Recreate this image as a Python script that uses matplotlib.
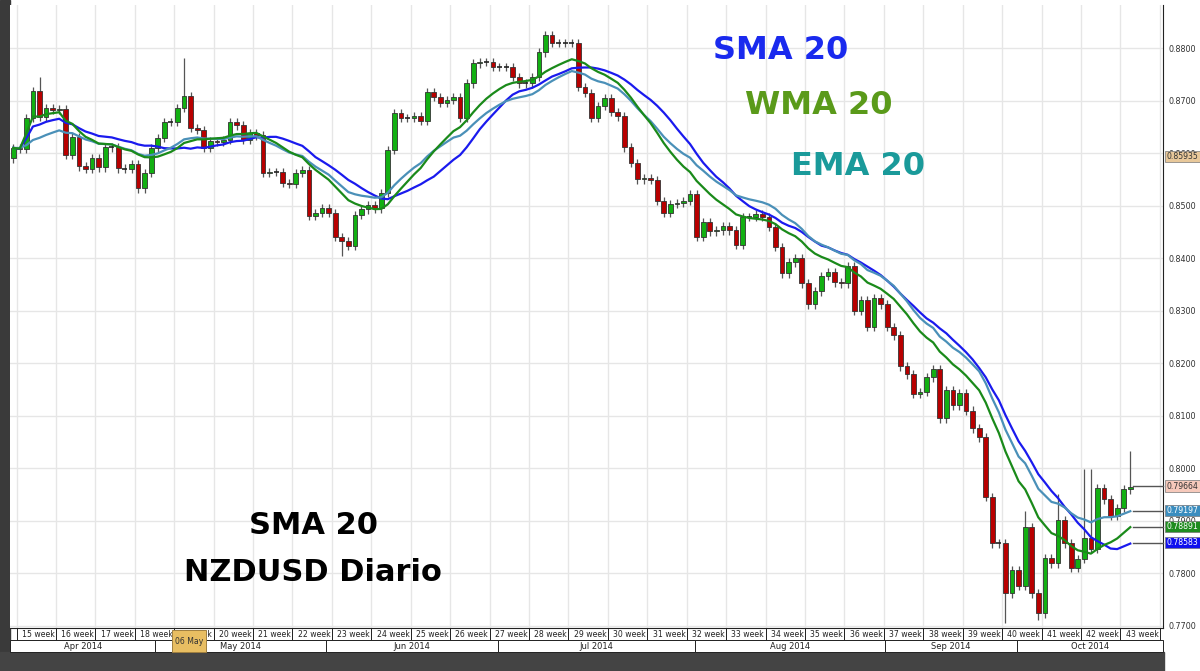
import numpy as np
import pandas as pd
import matplotlib
matplotlib.use("Agg")
import matplotlib.pyplot as plt
from matplotlib.patches import Rectangle
import matplotlib.transforms as mtrans

# ---------------- data (NZDUSD daily closes) ----------------
closes = [
 0.8610,0.8608,0.8667,0.8718,0.8669,0.8686,0.8682,0.8684,0.8596,0.8630,
 0.8575,0.8570,0.8590,0.8573,0.8611,0.8611,0.8571,0.8570,0.8579,0.8533,
 0.8562,0.8610,0.8629,0.8659,0.8659,0.8686,0.8709,0.8648,0.8644,
 0.8610,0.8623,0.8621,0.8625,0.8659,0.8653,0.8625,0.8638,0.8634,0.8562,
 0.8564,0.8564,0.8543,0.8541,0.8562,0.8568,0.8480,0.8486,0.8495,0.8486,
 0.8440,0.8432,0.8423,0.8482,0.8493,0.8501,0.8495,
 0.8524,0.8606,0.8676,0.8667,0.8667,0.8670,0.8661,0.8716,0.8707,0.8695,
 0.8701,0.8707,0.8667,0.8733,0.8771,0.8773,0.8773,0.8764,0.8764,0.8764,
 0.8745,0.8733,0.8733,0.8745,0.8792,0.8825,0.8810,0.8810,0.8810,0.8810,
 0.8726,0.8714,
 0.8667,0.8690,0.8705,0.8678,0.8670,0.8611,0.8581,0.8550,0.8552,0.8549,
 0.8509,0.8486,0.8503,0.8505,0.8509,0.8522,0.8440,0.8469,0.8451,0.8453,
 0.8461,0.8453,0.8425,0.8478,0.8478,0.8484,0.8478,0.8459,0.8421,0.8371,
 0.8392,0.8400,0.8352,0.8312,0.8337,0.8366,0.8373,0.8354,0.8352,0.8385,
 0.8299,0.8320,0.8270,0.8324,0.8312,0.8269,0.8253,0.8194,0.8179,0.8141,
 0.8145,0.8173,0.8189,0.8095,0.8149,0.8120,0.8143,0.8110,
 0.8076,0.8059,0.7945,0.7857,0.7857,0.7762,0.7806,0.7777,0.7888,0.7762,
 0.7724,0.7829,0.7819,0.7901,0.7857,0.7811,0.7827,0.7867,0.7846,0.7962,
 0.7941,0.7909,0.7924,0.7960,0.7964]
first_open = 0.8590
default_wick = 0.0008
# notable wick extremes: index -> (high, low)
wick_overrides = {4: (0.8745, None), 26: (0.8781, None), 50: (None, 0.8404),
                  151: (None, 0.7705), 156: (None, 0.7711), 170: (0.8033, None),
                  154: (0.7918, None), 163: (0.7998, None), 164: (0.7998, None),
                  159: (0.7952, None)}

week_numbers = list(range(15, 44))
week_start = 0.5          # week boundaries every 6 candles from here
month_labels = ["Apr 2014", "May 2014", "Jun 2014", "Jul 2014", "Aug 2014", "Sep 2014", "Oct 2014"]
month_bounds = [-2, 21.6, 47.6, 73.7, 103.8, 132.7, 152.7, 175.5]
yticks = [0.77, 0.78, 0.79, 0.80, 0.81, 0.82, 0.83, 0.84, 0.85, 0.86, 0.87, 0.88]
price_tags = [(0.79664, "#f6c9bb", "#333333"), (0.79197, "#3a8dbf", "white"),
              (0.78891, "#1e8c1e", "white"), (0.78583, "#1010ee", "white")]
ref_tag = (0.85935, "#e8c89a")

# ---------------- derived series ----------------
c = pd.Series(closes)
o = c.shift(1).fillna(first_open)
hi = np.maximum(o, c) + default_wick
lo = np.minimum(o, c) - default_wick
for k, (h, l) in wick_overrides.items():
    if h is not None: hi[k] = h
    if l is not None: lo[k] = l
sma = c.rolling(20, min_periods=1).mean()
ema = c.ewm(span=20, adjust=False).mean()
def wma_f(x):
    w = np.arange(1, len(x) + 1)
    return np.dot(x, w) / w.sum()
wma = c.rolling(20, min_periods=1).apply(wma_f, raw=True)

# ---------------- figure ----------------
fig = plt.figure(figsize=(12, 6.71), dpi=100)
fig.patch.set_facecolor("white")
fig.add_artist(Rectangle((0, 0), 0.0085, 1, transform=fig.transFigure, color="#3a3a3a", zorder=0))
fig.add_artist(Rectangle((0, 0), 0.97, 0.028, transform=fig.transFigure, color="#444444", zorder=0))

ax = fig.add_axes([0.0085, 0.064, 0.9608, 0.9285])
ax.set_xlim(-0.46, 175.0)
ax.set_ylim(0.7696, 0.8882)
idx = np.arange(len(closes))

for k in range(len(week_numbers) + 1):
    ax.axvline(week_start + 6 * k, color="#e6e6e6", lw=1, zorder=0)
for t in yticks:
    ax.axhline(t, color="#e6e6e6", lw=1, zorder=0)

for i in idx:
    up = c[i] >= o[i]
    col = "#12b012" if up else "#b80000"
    ax.vlines(i, lo[i], hi[i], color="#555555", lw=0.9, zorder=2)
    b0, b1 = min(o[i], c[i]), max(o[i], c[i])
    if b1 - b0 < 0.00012:
        ax.hlines(c[i], i - 0.38, i + 0.38, color="#222222", lw=1.2, zorder=3)
    else:
        ax.add_patch(Rectangle((i - 0.36, b0), 0.72, b1 - b0, facecolor=col,
                               edgecolor="#333333", lw=0.6, zorder=3))

ax.plot(idx, sma, color="#1a1aee", lw=1.6, zorder=4)
ax.plot(idx, ema, color="#4a90b8", lw=1.6, zorder=4)
ax.plot(idx, wma, color="#1a8a1a", lw=1.6, zorder=4)

ax.yaxis.tick_right()
ax.set_yticks(yticks)
ax.set_yticklabels([f"{t:.4f}" for t in yticks], fontsize=5.8, color="#333333")
ax.tick_params(axis="y", length=0, pad=4)
ax.set_xticks([])
for s in ["top", "left"]:
    ax.spines[s].set_visible(False)
ax.spines["right"].set_color("#222222")
ax.spines["bottom"].set_color("#222222")

last = idx[-1]
ytr = mtrans.blended_transform_factory(ax.transAxes, ax.transData)
for (val, bg, fg) in price_tags:
    ax.plot([last + 0.4, 175.0], [val, val], color="#555555", lw=1, zorder=4, clip_on=False)
    ax.text(1.003, val, f"{val:.5f}", transform=ytr,
            fontsize=5.6, color=fg, va="center", ha="left", zorder=6,
            bbox=dict(boxstyle="square,pad=0.15", fc=bg, ec="#777777", lw=0.5), clip_on=False)
ax.text(1.003, ref_tag[0], f"{ref_tag[0]:.5f}", transform=ytr,
        fontsize=5.6, color="#333333", va="center", ha="left", zorder=6,
        bbox=dict(boxstyle="square,pad=0.15", fc=ref_tag[1], ec="#777777", lw=0.5), clip_on=False)

tr = mtrans.blended_transform_factory(ax.transData, ax.transAxes)
row_h = 12 / 623
for k, w in enumerate(week_numbers):
    x0 = week_start + 6 * k
    x1 = min(x0 + 6, 175.0)
    ax.add_patch(Rectangle((x0, -row_h), x1 - x0, row_h, transform=tr, fc="white",
                           ec="#222222", lw=0.7, clip_on=False))
    ax.text(x0 + 0.8, -row_h / 2, f"{w} week", transform=tr, fontsize=5.6,
            va="center", ha="left", color="#222222", clip_on=False)
for k, m in enumerate(month_labels):
    x0, x1 = max(month_bounds[k], -0.46), month_bounds[k + 1]
    x1 = min(x1, 175.0)
    ax.add_patch(Rectangle((x0, -2 * row_h), x1 - x0, row_h, transform=tr, fc="white",
                           ec="#222222", lw=0.7, clip_on=False))
    ax.text((x0 + x1) / 2, -1.5 * row_h, m, transform=tr, fontsize=6,
            va="center", ha="center", color="#222222", clip_on=False)
ax.add_patch(Rectangle((24.1, -2 * row_h), 5.3, 1.8 * row_h, transform=tr, fc="#e8be62",
                       ec="#a08040", lw=0.7, clip_on=False, zorder=7))
ax.text(26.75, -1.1 * row_h, "06 May", transform=tr, fontsize=5.6, va="center",
        ha="center", color="#333333", clip_on=False, zorder=8)

ax.text(0.668, 0.927, "SMA 20", transform=ax.transAxes, fontsize=23, fontweight="bold",
        color="#1a2aee", ha="center", va="center")
ax.text(0.701, 0.838, "WMA 20", transform=ax.transAxes, fontsize=23, fontweight="bold",
        color="#5a9a1a", ha="center", va="center")
ax.text(0.735, 0.741, "EMA 20", transform=ax.transAxes, fontsize=23, fontweight="bold",
        color="#1a9a9a", ha="center", va="center")
ax.text(0.263, 0.164, "SMA 20", transform=ax.transAxes, fontsize=22, fontweight="bold",
        color="black", ha="center", va="center")
ax.text(0.263, 0.089, "NZDUSD Diario", transform=ax.transAxes, fontsize=22, fontweight="bold",
        color="black", ha="center", va="center")

fig.savefig("out.png", dpi=100)
